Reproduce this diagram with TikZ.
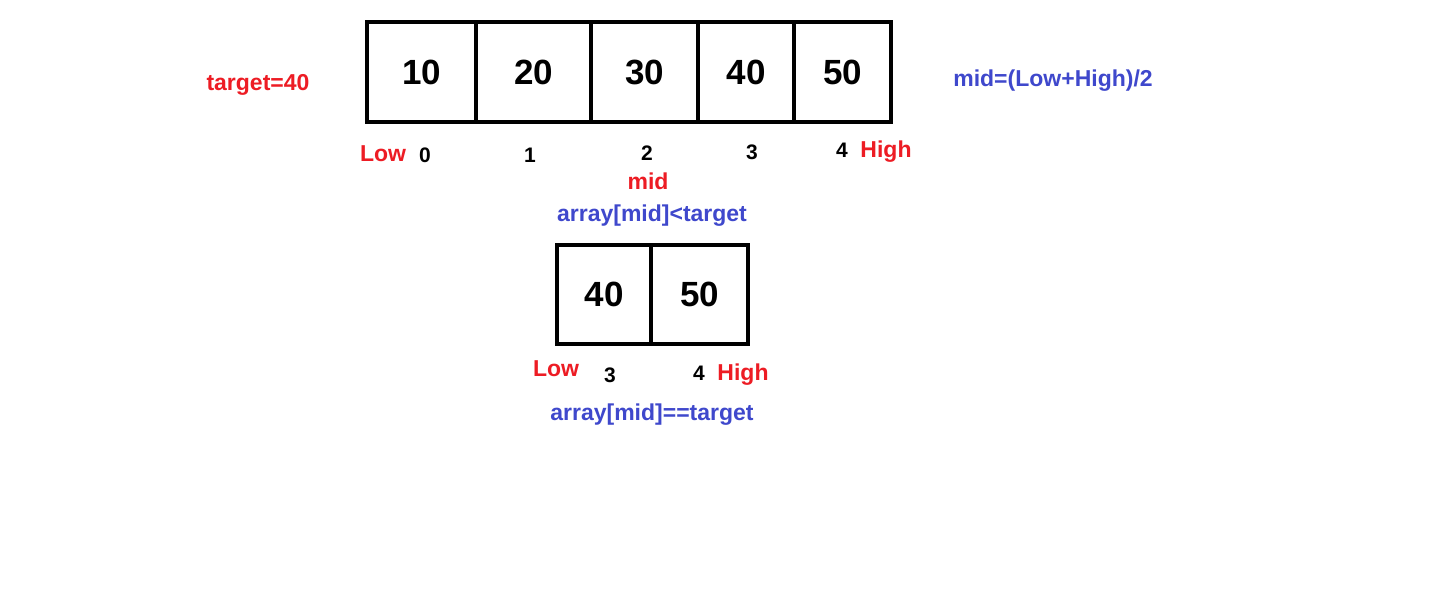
\documentclass[tikz,border=0pt]{standalone}
\usepackage{fontspec}
\setmainfont{Liberation Sans}
\definecolor{pred}{HTML}{ED1C24}
\definecolor{pblue}{HTML}{3F48CC}
\tikzset{
  cell/.style={draw=black, line width=4pt, inner sep=0pt, outer sep=0pt,
    minimum height=100pt, font=\fontsize{35}{35}\selectfont\bfseries},
  redlbl/.style={text=pred, inner sep=0pt, anchor=base, font=\fontsize{23}{23}\selectfont\bfseries},
  bluelbl/.style={text=pblue, inner sep=0pt, anchor=base, font=\fontsize{23}{23}\selectfont\bfseries},
  idx/.style={text=black, inner sep=0pt, anchor=base, font=\fontsize{21}{21}\selectfont\bfseries},
}
\begin{document}
\begin{tikzpicture}[x=1pt,y=-1pt]
\useasboundingbox[fill=white] (0,0) rectangle (1434,610);
% top array
\node[cell, minimum width=109pt] (c0) at (421.5,72) {10};
\node[cell, minimum width=115pt] (c1) at (533.5,72) {20};
\node[cell, minimum width=107pt] (c2) at (644.5,72) {30};
\node[cell, minimum width=96pt]  (c3) at (746,72) {40};
\node[cell, minimum width=97pt]  (c4) at (842.5,72) {50};
% labels top
\node[redlbl] (target) at (258,90) {target=40};
\node[bluelbl] (formula) at (1053,86) {mid=(Low+High)/2};
\node[redlbl] (low1) at (383,161) {Low};
\node[idx] (i0) at (425,162.5) {0};
\node[idx] (i1) at (530,162.5) {1};
\node[idx] (i2) at (647,160.5) {2};
\node[idx] (i3) at (752,159.5) {3};
\node[idx] (i4) at (842,157.5) {4};
\node[redlbl] (high1) at (886,157) {High};
\node[redlbl] (mid1) at (648,189) {mid};
\node[bluelbl] (cmp1) at (652,221) {array[mid]<target};
% bottom array
\node[cell, minimum width=94pt, minimum height=99pt] (d0) at (604,294.5) {40};
\node[cell, minimum width=97pt, minimum height=99pt] (d1) at (699.5,294.5) {50};
\node[redlbl] (low2) at (556,376) {Low};
\node[idx] (j3) at (610,382.5) {3};
\node[idx] (j4) at (699,380.5) {4};
\node[redlbl] (high2) at (743,380) {High};
\node[bluelbl] (cmp2) at (652,420) {array[mid]==target};
\end{tikzpicture}
\end{document}
